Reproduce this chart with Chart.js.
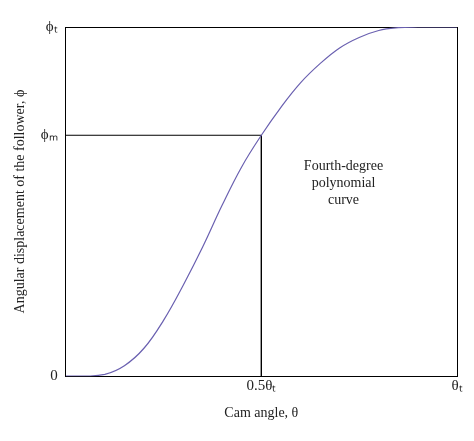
<!DOCTYPE html>
<html><head><meta charset="utf-8">
<script src="https://cdn.jsdelivr.net/npm/chart.js@4"></script>
<style>html,body{margin:0;padding:0;background:#fff}#w{width:474px;height:441px}</style>
</head><body><div id="w"><canvas id="c"></canvas></div>
<script>
const curveX = [0,0.05,0.1,0.15,0.2,0.25,0.3,0.35,0.4,0.45,0.5,0.55,0.6,0.65,0.7,0.75,0.8,0.85,0.9,0.95,1];
const curveY = [0,0,0.005,0.03,0.08,0.16,0.26,0.37,0.49,0.6,0.69,0.77,0.84,0.895,0.94,0.97,0.99,0.998,1,1,1];
const phiM = 0.69;
const yTicks = [0, phiM, 1];
const yTickLabels = ['0', 'ϕₘ', 'ϕₜ'];
const xTicks = [0.5, 1];
const xTickLabels = ['0.5θₜ', 'θₜ'];
const F = 'Liberation Serif';
const annot = {id:'annot', afterDraw(ch){
  const c=ch.ctx, xs=ch.scales.x, ys=ch.scales.y;
  c.save(); c.font='14px "'+F+'"'; c.fillStyle='#222'; c.textAlign='center';
  const cx=xs.getPixelForValue(0.71);
  ['Fourth-degree','polynomial','curve'].forEach((t,i)=>c.fillText(t,cx,ys.getPixelForValue(0.59)+i*17));
  c.restore();
}};
new Chart(document.getElementById('c'),{
  type:'scatter',
  data:{datasets:[
    {data:curveX.map((x,i)=>({x,y:curveY[i]})),showLine:true,borderColor:'#6a60b0',borderWidth:1.2,pointRadius:0,tension:0.4},
    {data:[{x:0,y:phiM},{x:0.5,y:phiM},{x:0.5,y:0}],showLine:true,borderColor:'#000',borderWidth:1,pointRadius:0}
  ]},
  options:{responsive:true,maintainAspectRatio:false,animation:false,
    layout:{padding:{top:27,right:17,left:8,bottom:19}},
    plugins:{legend:{display:false},tooltip:{enabled:false}},
    scales:{
      x:{min:0,max:1,afterBuildTicks:a=>{a.ticks=xTicks.map(v=>({value:v}))},
        grid:{display:false,drawTicks:false},border:{color:'#000',width:1},
        ticks:{color:'#222',font:{family:F,size:15},padding:1,maxRotation:0,callback:(v)=>xTickLabels[xTicks.indexOf(v)]},
        title:{display:true,text:'Cam angle, θ',color:'#222',font:{family:F,size:14},padding:{top:9,bottom:0}}},
      y:{min:0,max:1,afterBuildTicks:a=>{a.ticks=yTicks.map(v=>({value:v}))},
        grid:{display:false,drawTicks:false},border:{color:'#000',width:1},
        ticks:{color:'#222',font:{family:F,size:15},padding:8,callback:(v)=>yTickLabels[yTicks.indexOf(v)]},
        title:{display:true,text:'Angular displacement of the follower, ϕ',color:'#222',font:{family:F,size:14}}},
      x2:{position:'top',display:true,grid:{display:false,drawTicks:false},ticks:{display:false},border:{color:'#000'}},
      y2:{position:'right',display:true,grid:{display:false,drawTicks:false},ticks:{display:false},border:{color:'#000'}}
    }},
  plugins:[annot]
});
</script></body></html>
